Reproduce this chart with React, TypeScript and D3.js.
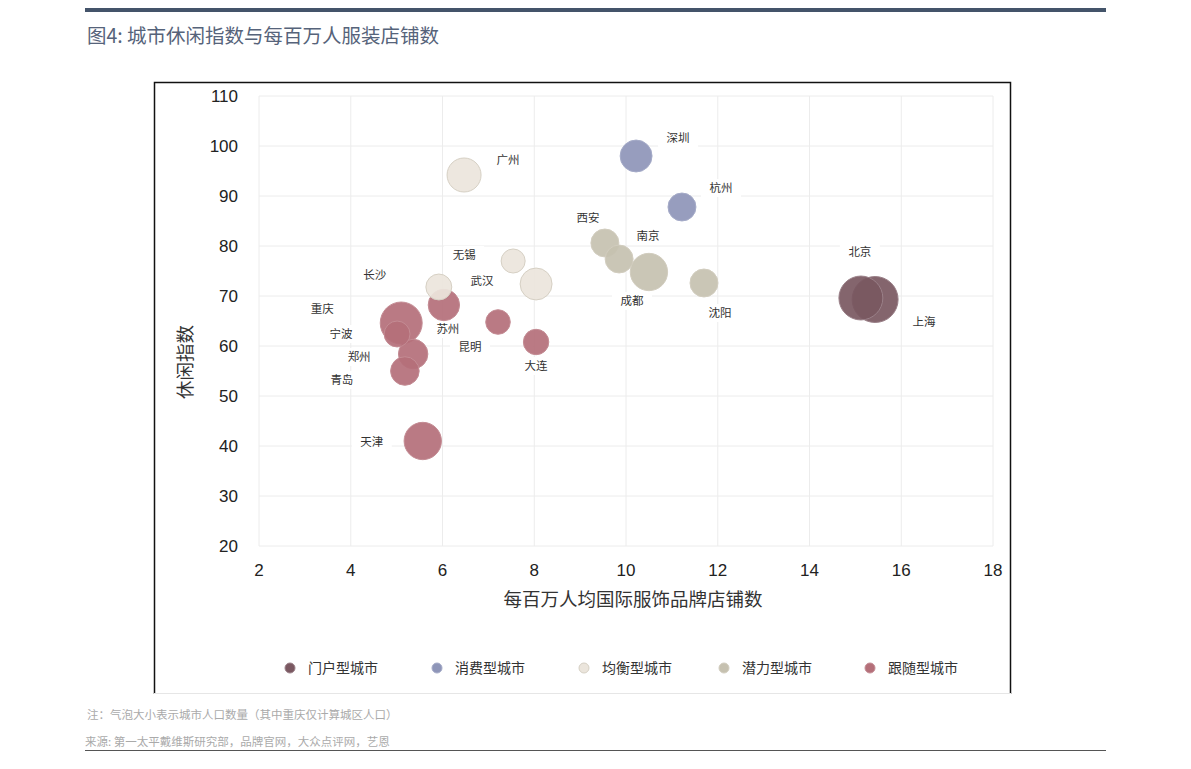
import React from "react";
import * as d3 from "d3";

// city data
const cities = ["北京", "上海", "深圳", "杭州", "广州", "无锡", "武汉", "长沙", "西安", "南京", "成都", "沈阳", "苏州", "重庆", "宁波", "郑州", "青岛", "昆明", "大连", "天津"];
const groups = ["门户型城市", "门户型城市", "消费型城市", "消费型城市", "均衡型城市", "均衡型城市", "均衡型城市", "均衡型城市", "潜力型城市", "潜力型城市", "潜力型城市", "潜力型城市", "跟随型城市", "跟随型城市", "跟随型城市", "跟随型城市", "跟随型城市", "跟随型城市", "跟随型城市", "跟随型城市"];
const storesPerMillion = [15.12, 15.43, 10.22, 11.22, 6.47, 7.54, 8.04, 5.92, 9.54, 9.85, 10.5, 11.7, 6.03, 5.1, 5.01, 5.36, 5.18, 7.21, 8.04, 5.57];
const leisureIndex = [69.6, 69.3, 98.0, 87.8, 94.2, 77.0, 72.4, 71.8, 80.6, 77.4, 74.8, 72.6, 68.2, 64.6, 62.4, 58.4, 55.0, 64.8, 60.8, 41.0];
const population = [2270, 2490, 1200, 920, 1360, 680, 1200, 790, 920, 920, 1640, 920, 1160, 2070, 790, 1020, 960, 710, 760, 1640];

const legendGroups = ["门户型城市", "消费型城市", "均衡型城市", "潜力型城市", "跟随型城市"];
const xTicks = [2, 4, 6, 8, 10, 12, 14, 16, 18];
const yTicks = [20, 30, 40, 50, 60, 70, 80, 90, 100, 110];

const groupColors: Record<string, string> = {
  门户型城市: "#7a5861",
  消费型城市: "#8e95b8",
  均衡型城市: "#ebe5dc",
  潜力型城市: "#c6c1b0",
  跟随型城市: "#b46f79",
};
const groupStroke: Record<string, string> = {
  门户型城市: "#9a8088",
  消费型城市: "#a5abc8",
  均衡型城市: "#d6d0c4",
  潜力型城市: "#d2cdbf",
  跟随型城市: "#c48c94",
};

// label offsets from bubble centre (layout)
const labelOffset: Record<string, [number, number]> = {
  北京: [-1, -46], 上海: [49, 22], 深圳: [42, -18], 杭州: [39, -19], 广州: [44, -15],
  无锡: [-49, -6], 武汉: [-54, -3], 长沙: [-64, -12], 西安: [-17, -25], 南京: [29, -23],
  成都: [-17, 29], 沈阳: [16, 30], 苏州: [4, 24], 重庆: [-79, -14], 宁波: [-56, 0],
  郑州: [-54, 3], 青岛: [-63, 9], 昆明: [-28, 25], 大连: [0, 24], 天津: [-51, 1],
};

const W = 1191;
const H = 769;
const font = "'Liberation Sans', Arial, 'Noto Sans CJK SC', sans-serif";
const cjk = "'Noto Sans CJK SC', 'Liberation Sans', sans-serif";

const App = () => {
  const x = d3.scaleLinear().domain([2, 18]).range([259, 993]);
  const y = d3.scaleLinear().domain([20, 110]).range([546, 96]);
  const r = d3.scaleSqrt().domain([0, 2490]).range([0, 23]);

  const points = cities.map((c, i) => ({
    city: c,
    group: groups[i],
    x: x(storesPerMillion[i]),
    y: y(leisureIndex[i]),
    r: r(population[i]),
  }));
  // draw bigger bubbles first
  const order = [...points].sort((a, b) => b.r - a.r);

  return (
    <svg width={W} height={H} style={{ position: "absolute", left: 0, top: 0, background: "#fff" }}>
      <rect x={85} y={8} width={1021} height={4} fill="#44546a" />
      <text x={87} y={43} fontSize={19.5} fill="#56637a" fontFamily={cjk}>图4: 城市休闲指数与每百万人服装店铺数</text>

      {/* chart frame */}
      <path d="M154.5,694 V82.5 H1010.5 V694" fill="none" stroke="#111" strokeWidth={1.5} />
      <line x1={154} x2={1011} y1={693.5} y2={693.5} stroke="#e6e6e6" />

      {/* grid */}
      {yTicks.map((t) => (
        <line key={"gy" + t} x1={259} x2={993} y1={y(t)} y2={y(t)} stroke="#ececec" />
      ))}
      {xTicks.map((t) => (
        <line key={"gx" + t} x1={x(t)} x2={x(t)} y1={96} y2={546} stroke="#ececec" />
      ))}

      {/* tick labels */}
      {yTicks.map((t) => (
        <text key={"ty" + t} x={238} y={y(t) + 6} textAnchor="end" fontSize={17} fill="#222" fontFamily={font}>{t}</text>
      ))}
      {xTicks.map((t) => (
        <text key={"tx" + t} x={x(t)} y={576} textAnchor="middle" fontSize={17} fill="#222" fontFamily={font}>{t}</text>
      ))}
      <text x={633} y={606} textAnchor="middle" fontSize={18.5} fill="#333" fontFamily={cjk}>每百万人均国际服饰品牌店铺数</text>
      <text transform="translate(192,362) rotate(-90)" textAnchor="middle" fontSize={18.5} fill="#333" fontFamily={cjk}>休闲指数</text>

      {/* labels */}
      {points.map((p) => {
        const [dx, dy] = labelOffset[p.city];
        return (
          <g key={"l" + p.city}>
            <rect x={p.x + dx - 20} y={p.y + dy - 9} width={40} height={18} fill="#fff" />
            <text x={p.x + dx} y={p.y + dy + 4} textAnchor="middle" fontSize={11.5} fill="#333" fontFamily={cjk}>{p.city}</text>
          </g>
        );
      })}

      {/* bubbles */}
      {order.map((p) => (
        <circle key={p.city} cx={p.x} cy={p.y} r={p.r} fill={groupColors[p.group]} fillOpacity={0.92} stroke={groupStroke[p.group]} strokeWidth={1} />
      ))}

      {/* legend */}
      {legendGroups.map((g, i) => {
        const lx = [290, 437, 584, 724, 870][i];
        return (
          <g key={g}>
            <circle cx={lx} cy={668} r={5} fill={groupColors[g]} stroke={groupStroke[g]} />
            <text x={lx + 18} y={673} fontSize={14} fill="#333" fontFamily={cjk}>{g}</text>
          </g>
        );
      })}

      <text x={87} y={719} fontSize={11.5} fill="#aaa" fontFamily={cjk}>注：气泡大小表示城市人口数量（其中重庆仅计算城区人口）</text>
      <text x={85} y={746} fontSize={11.5} fill="#aaa" fontFamily={cjk}>来源: 第一太平戴维斯研究部，品牌官网，大众点评网，艺恩</text>
      <line x1={85} x2={1106} y1={750.5} y2={750.5} stroke="#555" />
    </svg>
  );
};

export default App;
